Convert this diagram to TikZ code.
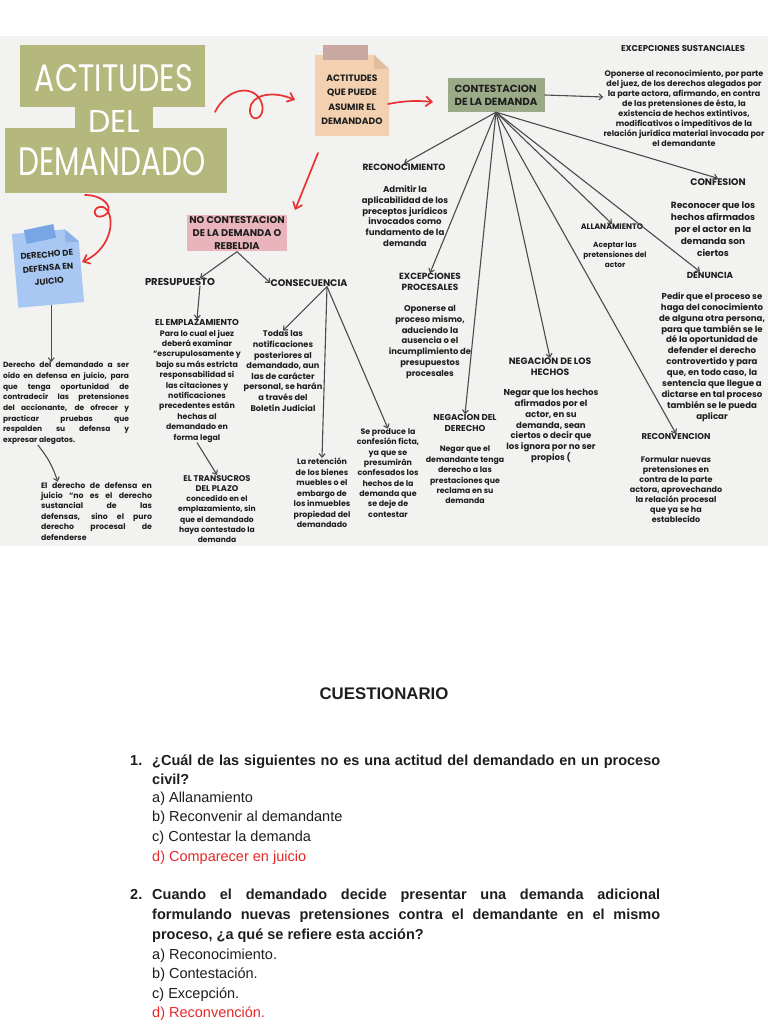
\documentclass[tikz,border=0pt]{standalone}
\usepackage{graphicx}
\usepackage{fontspec}
\setmainfont{Liberation Sans}
\newfontfamily\mapfont{Poppins}
\usetikzlibrary{arrows.meta,calc}

\definecolor{mapbg}{RGB}{242,242,240}
\definecolor{olive}{RGB}{181,184,124}
\definecolor{sage}{RGB}{156,171,135}
\definecolor{pinkbox}{RGB}{233,180,188}
\definecolor{peach}{RGB}{242,208,176}
\definecolor{peachfold}{RGB}{226,190,160}
\definecolor{tapemauve}{RGB}{200,168,160}
\definecolor{bluenote}{RGB}{168,200,243}
\definecolor{bluefold}{RGB}{140,178,232}
\definecolor{bluetape}{RGB}{120,165,230}
\definecolor{redline}{RGB}{232,50,50}
\definecolor{qred}{RGB}{230,40,40}
\definecolor{ink}{RGB}{30,30,30}
\definecolor{arrgray}{RGB}{75,75,75}

\newcommand{\jline}[2]{\makebox[#1][s]{#2}}

\begin{document}
\begin{tikzpicture}[x=1pt,y=-1pt,>=Latex,
  tx/.style 2 args={font=\mapfont\bfseries\fontsize{#1}{#2}\selectfont,align=center,inner sep=0pt,text=ink},
  ttl/.style={font=\mapfont,text=white,inner sep=0pt},
  garr/.style={draw=arrgray,line width=1.1pt,-{Straight Barb[length=3.5pt,width=6pt]}},
  rarr/.style={draw=redline,line width=1.7pt,line cap=round,-{Straight Barb[length=6pt,width=10pt]}},
  qb/.style={font=\bfseries\fontsize{14.5}{17}\selectfont,anchor=base west,inner sep=0pt,text=ink},
  qa/.style={font=\fontsize{14.5}{17}\selectfont,anchor=base west,inner sep=0pt,text=ink},
]
\useasboundingbox (0,0) rectangle (768,1024);
\fill[white] (0,0) rectangle (768,1024);
\fill[mapbg] (0,36) rectangle (768,546);

\fill[olive] (20,45) rectangle (205,107);
\fill[olive] (75,100) rectangle (153,135);
\fill[olive] (5,128) rectangle (227,193);
\node[ttl] (ttl_a) at (114,78) {\resizebox{158pt}{27pt}{ACTITUDES}};
\node[ttl] (ttl_b) at (114,121) {\resizebox{52pt}{22pt}{DEL}};
\node[ttl] (ttl_c) at (112,162) {\resizebox{187pt}{28pt}{DEMANDADO}};

\fill[peach] (315,55) -- (374,55) -- (389,69) -- (389,136) -- (315,136) -- cycle;
\fill[peachfold] (374,55) -- (389,69) -- (374,69) -- cycle;
\fill[tapemauve] (323,45) rectangle (368,60);
\node[tx={9.2}{14.5}] (note1) at (352,100) {ACTITUDES\\QUE PUEDE\\ASUMIR EL\\DEMANDADO};

\node[tx={10.3}{13},fill=sage,minimum width=97pt,minimum height=34pt,align=left] (cd) at (496,95) {CONTESTACION\\DE LA DEMANDA};

\node[tx={8.5}{13.5},fill=bluenote,rotate=5,minimum width=66pt,minimum height=74pt] (der) at (48,268) {DERECHO DE\\DEFENSA EN\\JUICIO};
\coordinate (dne) at (der.north east);
\coordinate (dfa) at ($(der.north east)!.2!(der.north west)$);
\coordinate (dfb) at ($(der.north east)!.18!(der.south east)$);
\fill[mapbg] (dne) -- (dfa) -- (dfb) -- cycle;
\fill[bluefold] (dfa) -- (dfb) -- ($(dfa)+(dfb)-(dne)$) -- cycle;
\fill[bluetape,rotate around={12:(40,234)}] (25,227) rectangle (55,241);

\node[tx={8.5}{10}] (exs_t) at (683,49) {EXCEPCIONES SUSTANCIALES};
\node[tx={8}{10}] (exs) at (684,108) {Oponerse al reconocimiento, por parte\\del juez, de los derechos alegados por\\la parte actora, afirmando, en contra\\de las pretensiones de ésta, la\\existencia de hechos extintivos,\\modificativos o impeditivos de la\\relación jurídica material invocada por\\el demandante};
\node[tx={9.5}{11}] (conf_t) at (718,182) {CONFESION};
\node[tx={9}{12}] (conf) at (713,229) {Reconocer que los\\hechos afirmados\\por el actor en la\\demanda son\\ciertos};
\node[tx={8}{9}] (alla_t) at (612,227) {ALLANAMIENTO};
\node[tx={7.4}{10}] (alla) at (615,255) {Aceptar las\\pretensiones del\\actor};
\node[tx={8.8}{10}] (denu_t) at (710,275) {DENUNCIA};
\node[tx={8.6}{10.9}] (denu) at (712,357) {Pedir que el proceso se\\haga del conocimiento\\de alguna otra persona,\\para que también se le\\dé la oportunidad de\\defender el derecho\\controvertido y para\\que, en todo caso, la\\sentencia que llegue a\\dictarse en tal proceso\\también se le pueda\\aplicar};
\node[tx={8.5}{10}] (recv_t) at (676,437) {RECONVENCION};
\node[tx={8}{10}] (recv) at (676,490) {Formular nuevas\\pretensiones en\\contra de la parte\\actora, aprovechando\\la relación procesal\\que ya se ha\\establecido};
\node[tx={9}{10}] (reco_t) at (404,167) {RECONOCIMIENTO};
\node[tx={8.6}{10.8}] (reco) at (405,216) {Admitir la\\aplicabilidad de los\\preceptos jurídicos\\invocados como\\fundamento de la\\demanda};
\node[tx={8.9}{11}] (exp_t) at (430,282) {EXCEPCIONES\\PROCESALES};
\node[tx={8.4}{10.8}] (exp) at (430,342) {Oponerse al\\proceso mismo,\\aduciendo la\\ausencia o el\\incumplimiento de\\presupuestos\\procesales};
\node[tx={9.2}{11}] (nh_t) at (550,367) {NEGACION DE LOS\\HECHOS};
\node[tx={8.6}{10.8}] (nh) at (551,426) {Negar que los hechos\\afirmados por el\\actor, en su\\demanda, sean\\ciertos o decir que\\los ignora por no ser\\propios (};
\node[tx={8.6}{11}] (nd_t) at (465,423) {NEGACION DEL\\DERECHO};
\node[tx={7.8}{10.4}] (nd) at (465,475) {Negar que el\\demandante tenga\\derecho a las\\prestaciones que\\reclama en su\\demanda};

\node[tx={9.8}{13},fill=pinkbox,inner sep=2pt] (noc) at (237,233) {NO CONTESTACION\\DE LA DEMANDA O\\REBELDIA};
\node[tx={10}{11}] (pres) at (180,282) {PRESUPUESTO};
\node[tx={9.6}{11}] (cons) at (309,283) {CONSECUENCIA};
\node[tx={7.85}{10.4}] (emp) at (197,381) {{\fontsize{8.6}{10.4}\selectfont EL EMPLAZAMIENTO}\\Para lo cual el juez\\deberá examinar\\“escrupulosamente y\\bajo su más estricta\\responsabilidad si\\las citaciones y\\notificaciones\\precedentes están\\hechas al\\demandado en\\forma legal};
\node[tx={8.2}{10.6}] (todas) at (283,371) {Todas las\\notificaciones\\posteriores al\\demandado, aun\\las de carácter\\personal, se harán\\a través del\\Boletín Judicial};
\node[tx={7.6}{10.3}] (tra) at (217,509) {{\fontsize{8.3}{10.3}\selectfont EL TRANSUCROS}\\{\fontsize{8.3}{10.3}\selectfont DEL PLAZO}\\concedido en el\\emplazamiento, sin\\que el demandado\\haya contestado la\\demanda};
\node[tx={7.9}{10.5}] (ret) at (322,493) {La retención\\de los bienes\\muebles o el\\embargo de\\los inmuebles\\propiedad del\\demandado};
\node[tx={7.9}{10.3}] (fic) at (388,473) {Se produce la\\confesión ficta,\\ya que se\\presumirán\\confesados los\\hechos de la\\demanda que\\se deje de\\contestar};

\node[tx={7.5}{10.7},align=left] (par1) at (66,403.5) {\jline{126pt}{Derecho del demandado a ser}\\\jline{126pt}{oído en defensa en juicio, para}\\\jline{126pt}{que tenga oportunidad de}\\\jline{126pt}{contradecir las pretensiones}\\\jline{126pt}{del accionante, de ofrecer y}\\\jline{126pt}{practicar pruebas que}\\\jline{126pt}{respalden su defensa y}\\expresar alegatos.};
\node[tx={7.8}{10.4},align=left] (par2) at (96.5,511) {\jline{111pt}{El derecho de defensa en}\\\jline{111pt}{juicio “no es el derecho}\\\jline{111pt}{sustancial de las}\\\jline{111pt}{defensas, sino el puro}\\\jline{111pt}{derecho procesal de}\\defenderse};

\draw[garr] (cd.east) -- ([yshift=11pt]exs.west);
\draw[garr] (cd.south) -- (reco_t.north);
\draw[garr] (cd.south) -- (exp_t.north);
\draw[garr] (cd.south) -- (nd_t.north);
\draw[garr] (cd.south) -- (nh_t.north);
\draw[garr] (cd.south) -- (recv_t.north);
\draw[garr] (cd.south) -- (alla_t.north);
\draw[garr] (cd.south) -- ([xshift=-10pt]denu_t.north);
\draw[garr] (cd.south) -- (conf_t.north);
\draw[garr] (noc.south) -- ([xshift=20pt]pres.north);
\draw[garr] (noc.south) -- (cons.west);
\draw[garr] ([xshift=20pt]pres.south) -- (emp.north);
\draw[garr] ([xshift=18pt]cons.south) -- (todas.north);
\draw[garr] ([xshift=18pt]cons.south) -- (ret.north);
\draw[garr] ([xshift=18pt]cons.south) -- (fic.north);
\draw[garr] (emp.south) -- (tra.north);
\draw[garr] (der.south) -- (par1.north -| der.south);
\draw[garr] ([xshift=35pt]par1.south west) to[bend left=10] ([xshift=17pt]par2.north west);

\coordinate (r1a) at (215,112);
\coordinate (r1b) at (295,100);
\coordinate (r2a) at (318,153);
\coordinate (r2b) at (295,210);
\coordinate (r3a) at (85,195);
\coordinate (r3b) at (82,262);
\coordinate (r4a) at (388,104);
\coordinate (r4b) at (433,102);
\draw[rarr] (r1a) .. controls (228,86) and (256,84) .. (262,104) .. controls (266,120) and (249,124) .. (250,109) .. controls (251,95) and (272,90) .. (r1b);
\draw[rarr] (r2a) -- (r2b);
\draw[rarr] (r3a) .. controls (106,195) and (116,211) .. (103,216) .. controls (92,220) and (92,205) .. (103,207) .. controls (116,212) and (114,248) .. (r3b);
\draw[rarr] (r4a) to[bend left=8] (r4b);

\node[font=\bfseries\fontsize{16.8}{20}\selectfont,inner sep=0pt,anchor=base,text=ink] (q_ttl) at (384,699) {CUESTIONARIO};
\node[qb] (q1_n) at (130,765) {1.};
\node[qb] (q1_l1) at (152,765) {\jline{508pt}{¿Cuál de las siguientes no es una actitud del demandado en un proceso}};
\node[qb] (q1_l2) at (152,784) {civil?};
\node[qa] (q1_a) at (152,802) {a) Allanamiento};
\node[qa] (q1_b) at (152,821) {b) Reconvenir al demandante};
\node[qa] (q1_c) at (152,841) {c) Contestar la demanda};
\node[qa,text=qred] (q1_d) at (152,861) {d) Comparecer en juicio};
\node[qb] (q2_n) at (130,899) {2.};
\node[qb] (q2_l1) at (152,899) {\jline{508pt}{Cuando el demandado decide presentar una demanda adicional}};
\node[qb] (q2_l2) at (152,919) {\jline{508pt}{formulando nuevas pretensiones contra el demandante en el mismo}};
\node[qb] (q2_l3) at (152,939) {proceso, ¿a qué se refiere esta acción?};
\node[qa] (q2_a) at (152,959) {a) Reconocimiento.};
\node[qa] (q2_b) at (152,978) {b) Contestación.};
\node[qa] (q2_c) at (152,998) {c) Excepción.};
\node[qa,text=qred] (q2_d) at (152,1017) {d) Reconvención.};
\end{tikzpicture}
\end{document}
